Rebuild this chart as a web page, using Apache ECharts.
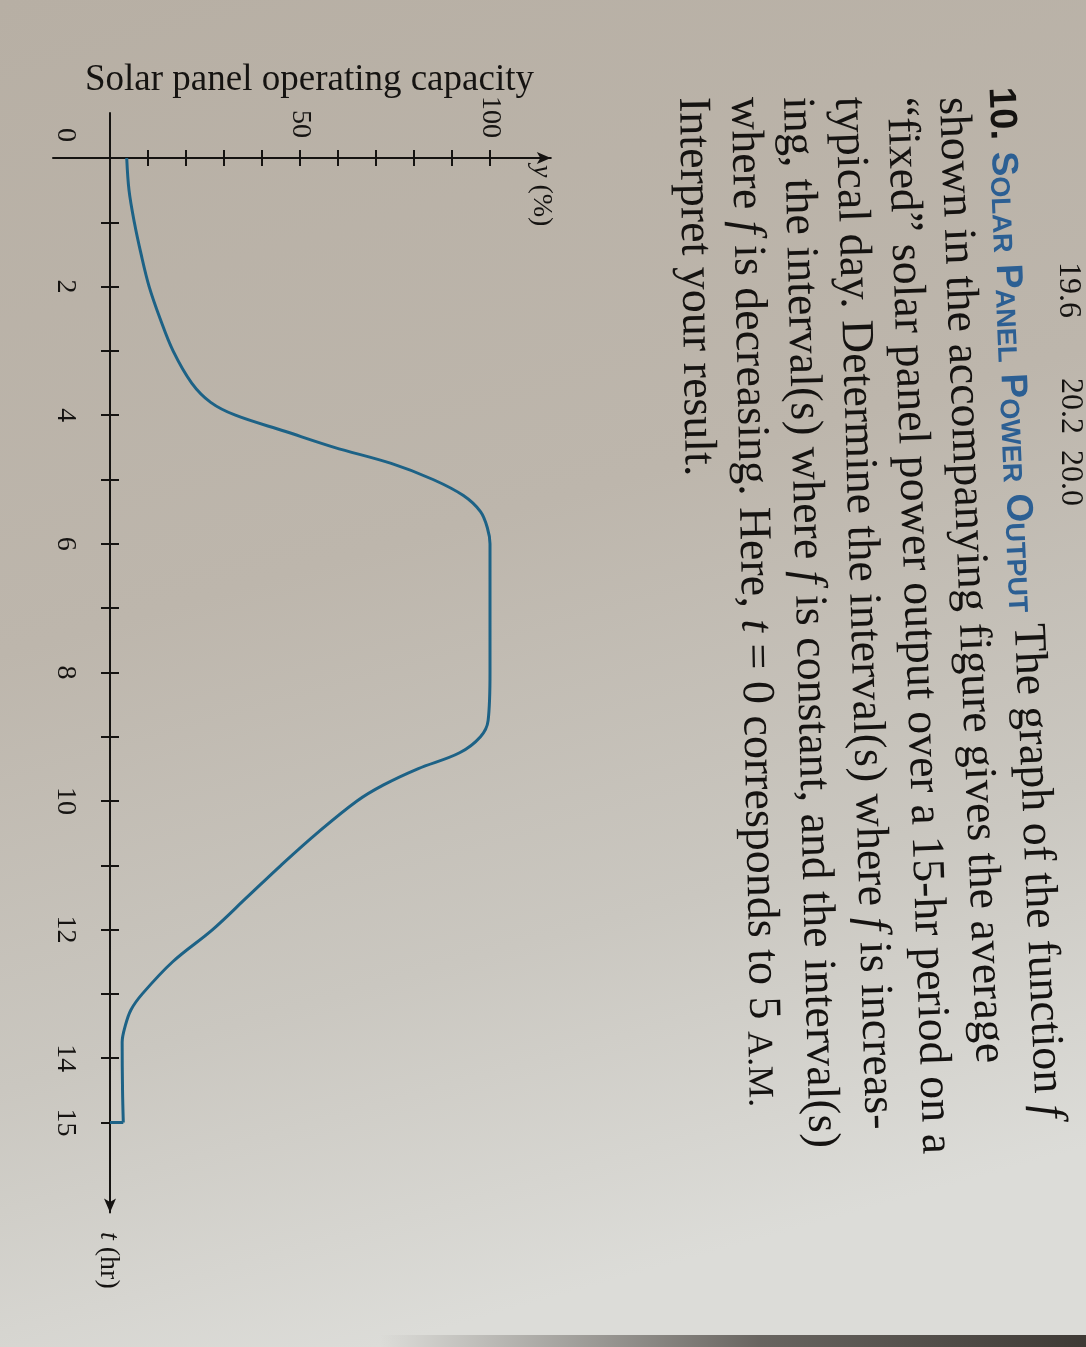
<!DOCTYPE html>
<html>
<head>
<meta charset="utf-8">
<script src="https://cdn.jsdelivr.net/npm/echarts@6/dist/echarts.min.js"></script>
<style>
html,body{margin:0;padding:0;background:#c4beb4;}
#c{width:1086px;height:1347px;}
</style>
</head>
<body>
<div id="c"></div>
<script>
// ---- data ----
const hours    = [0, 0.5, 1, 1.5, 2, 2.5, 3, 3.5, 3.8, 4, 4.25, 4.5, 4.75, 5, 5.25, 5.5, 5.75, 6, 7, 8, 8.75, 9, 9.25, 9.5, 9.75, 10, 10.5, 11, 11.5, 12, 12.5, 13, 13.25, 13.5, 13.75, 14.5, 15];
const capacity = [4.4, 5, 6.4, 8.2, 10.3, 13.2, 16.6, 21.5, 26.5, 33, 46, 59, 74, 85, 93, 97.5, 99.3, 100, 100, 100, 99.5, 97.5, 92, 81, 72, 65, 54.5, 45, 36, 27, 16.5, 8.5, 5.5, 4, 3.2, 3.3, 3.5];
const dropHours    = [15, 15];
const dropCapacity = [3.5, 0];
const hourTicks   = [1, 2, 3, 4, 5, 6, 7, 8, 9, 10, 11, 12, 13, 14, 15];
const hourLabels  = [0, 2, 4, 6, 8, 10, 12, 14, 15];
const pctTicks    = [10, 20, 30, 40, 50, 60, 70, 80, 90, 100];
const pctLabels   = [50, 100];
const titleText = 'Solar panel operating capacity';
const pctName = 'y';
const hourName = 't';
const tableBits = ['19.6', '20.2', '20.0'];

const serif = '"Liberation Serif","DejaVu Serif",serif';
const sans = '"Liberation Sans","DejaVu Sans",sans-serif';
const ink = '#151311';
const blue = '#2c5f93';
const curveColor = '#1d6286';

const chart = echarts.init(document.getElementById('c'), null, {renderer: 'canvas'});

const FS = 46;
const R = s => '{r|' + s + '}';
const I = s => '{i|' + s + '}';
const textRich = {
  n: {fontFamily: sans, fontWeight: 'bold', fontSize: 38, lineHeight: 46, fill: ink, verticalAlign: 'bottom'},
  c: {fontFamily: sans, fontWeight: 'bold', fontSize: 37, lineHeight: 46, fill: blue, verticalAlign: 'bottom'},
  s: {fontFamily: sans, fontWeight: 'bold', fontSize: 27, lineHeight: 38, fill: blue, verticalAlign: 'bottom'},
  r: {fontFamily: serif, fontSize: FS, lineHeight: 46, fill: ink, verticalAlign: 'bottom'},
  i: {fontFamily: serif, fontStyle: 'italic', fontSize: FS, lineHeight: 46, fill: ink, verticalAlign: 'bottom'},
  m: {fontFamily: serif, fontSize: 36, lineHeight: 42, fill: ink, verticalAlign: 'bottom'}
};
const columns = [
  '{n|10.} {c|S}{s|OLAR} {c|P}{s|ANEL} {c|P}{s|OWER} {c|O}{s|UTPUT} ' + R('The graph of the function ') + I('f'),
  R('shown in the accompanying figure gives the average'),
  R('\u201cfixed\u201d solar panel power output over a 15-hr period on a'),
  R('typical day. Determine the interval(s) where ') + I('f') + R(' is increas-'),
  R('ing, the interval(s) where ') + I('f') + R(' is constant, and the interval(s)'),
  R('where ') + I('f') + R(' is decreasing. Here, ') + I('t') + R(' = 0 corresponds to 5 ') + '{m|A.M.}',
  R('Interpret your result.')
];
const graphics = [
  {type: 'rect', z: -20, silent: true, shape: {x: 0, y: 0, width: 1086, height: 1347},
   style: {fill: new echarts.graphic.LinearGradient(0, 0, 0.35, 1, [
     {offset: 0, color: '#b7afa4'}, {offset: 0.45, color: '#bdb6ac'},
     {offset: 0.75, color: '#cac7c0'}, {offset: 1, color: '#dcdcd8'}])}},
  {type: 'rect', z: -19, silent: true, shape: {x: 0, y: 1335, width: 1086, height: 12},
   style: {fill: new echarts.graphic.LinearGradient(0, 0, 1, 0, [
     {offset: 0, color: 'rgba(60,55,50,0)'}, {offset: 0.35, color: 'rgba(60,55,50,0)'},
     {offset: 0.7, color: 'rgba(55,50,45,0.7)'}, {offset: 1, color: 'rgba(45,40,35,0.9)'}])}},
  {type: 'text', x: 85, y: 80, z: 5,
   style: {text: titleText, font: '37px ' + serif, fill: ink, align: 'left', verticalAlign: 'middle'}},
  {type: 'text', x: 541, y: 165, rotation: -Math.PI / 2, z: 5,
   style: {text: '{i|' + pctName + '} (%)', font: '28px ' + serif, fill: ink, align: 'left', verticalAlign: 'middle',
           rich: {i: {fontFamily: serif, fontStyle: 'italic', fontSize: 28, fill: ink}}}},
  {type: 'text', x: 108, y: 1232, rotation: -Math.PI / 2, z: 5,
   style: {text: '{i|' + hourName + '} (hr)', font: '28px ' + serif, fill: ink, align: 'left', verticalAlign: 'middle',
           rich: {i: {fontFamily: serif, fontStyle: 'italic', fontSize: 28, fill: ink}}}},
  {type: 'text', x: 1068, y: 262, rotation: -Math.PI / 2, z: 5,
   style: {text: tableBits[0], font: '32px ' + serif, fill: ink, align: 'left', verticalAlign: 'middle'}},
  {type: 'text', x: 1070, y: 378, rotation: -Math.PI / 2, z: 5,
   style: {text: tableBits[1] + '  ' + tableBits[2], font: '32px ' + serif, fill: ink, align: 'left', verticalAlign: 'middle'}}
];
columns.forEach((txt, k) => {
  const xt = 1004 - 52 * k, xb = 1051 - 57 * k;
  const y0 = k === 0 ? 87 : 97;
  const tilt = Math.atan((xb - xt) / 1100);
  graphics.push({type: 'text', x: xt, y: y0, rotation: -Math.PI / 2 + tilt, z: 5,
    style: {text: txt, rich: textRich, font: FS + 'px ' + serif, fill: ink, align: 'left', verticalAlign: 'middle'}});
});

const X0 = -15, X1 = 116, T0 = -0.7, T1 = 16.4;
const axisLineStyle = {color: ink, width: 2};
const tickStyle = {color: ink, width: 2};
const labelBase = {rotate: -90, fontFamily: serif, fontSize: 28, color: ink};

const option = {
  animation: false,
  graphic: graphics,
  grid: {left: 53, top: 113, width: 497.8, height: 1099.5, outerBoundsMode: 'none', containLabel: false},
  xAxis: [
    {type: 'value', position: 'top', min: X0, max: X1,
     axisLine: {show: true, onZero: true, lineStyle: axisLineStyle, symbol: ['none', 'arrow'], symbolSize: [9, 14]},
     axisTick: {show: true, inside: false, length: 8, customValues: pctTicks, lineStyle: tickStyle},
     axisLabel: Object.assign({customValues: pctLabels, margin: -25}, labelBase),
     splitLine: {show: false}},
    {type: 'value', position: 'top', min: X0, max: X1,
     axisLine: {show: true, onZero: true, lineStyle: {opacity: 0}},
     axisTick: {show: true, inside: true, length: 8, customValues: pctTicks, lineStyle: tickStyle},
     axisLabel: {show: false}, splitLine: {show: false}}
  ],
  yAxis: [
    {type: 'value', position: 'left', inverse: true, min: T0, max: T1,
     axisLine: {show: true, onZero: true, lineStyle: axisLineStyle, symbol: ['arrow', 'none'], symbolSize: [9, 14]},
     axisTick: {show: true, inside: false, length: 9, customValues: hourTicks, lineStyle: tickStyle},
     axisLabel: Object.assign({customValues: hourLabels, margin: -26,
       formatter: v => v === 0 ? '{z|0}' : String(v),
       rich: {z: {fontFamily: serif, fontSize: 28, color: ink, padding: [0, 46, 0, 0]}}}, labelBase),
     splitLine: {show: false}},
    {type: 'value', position: 'left', inverse: true, min: T0, max: T1,
     axisLine: {show: true, onZero: true, lineStyle: {opacity: 0}},
     axisTick: {show: true, inside: true, length: 9, customValues: hourTicks, lineStyle: tickStyle},
     axisLabel: {show: false}, splitLine: {show: false}}
  ],
  series: [
    {type: 'line', name: 'capacity', xAxisIndex: 0, yAxisIndex: 0, smooth: 0.35, showSymbol: false, symbol: 'none',
     lineStyle: {color: curveColor, width: 3}, z: 3,
     data: hours.map((t, i) => [capacity[i], t])},
    {type: 'line', name: 'drop', xAxisIndex: 0, yAxisIndex: 0, smooth: false, showSymbol: false, symbol: 'none',
     lineStyle: {color: curveColor, width: 3}, z: 3,
     data: dropHours.map((t, i) => [dropCapacity[i], t])}
  ]
};
chart.setOption(option);
</script>
</body>
</html>
